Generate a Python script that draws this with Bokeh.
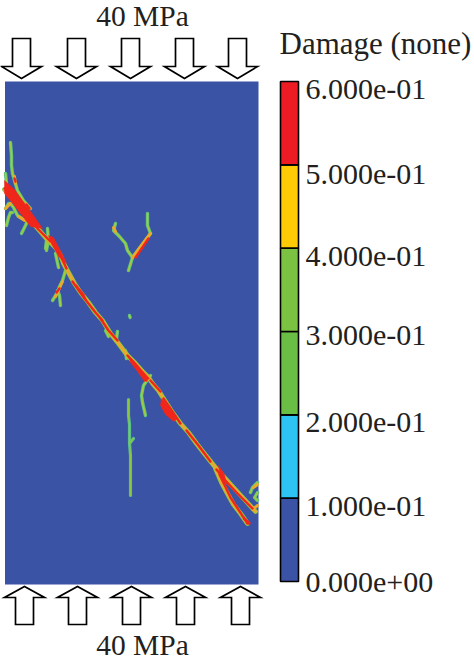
from bokeh.plotting import figure
from bokeh.models import Range1d
from bokeh.core.properties import value
from bokeh.embed import file_html
from bokeh.resources import INLINE

# Colour bar
levels = [0.0, 0.1, 0.2, 0.3, 0.4, 0.5, 0.6]
tick_labels = ["0.000e+00", "1.000e-01", "2.000e-01", "3.000e-01", "4.000e-01", "5.000e-01", "6.000e-01"]
band_colors = ["#3A53A4", "#2DC3F3", "#6ABD45", "#7CC242", "#FFCB05", "#ED1C24"]
bar_title = "Damage (none)"
load_label = "40 MPa"

# Crack traces in image coordinates
main_x = [4, 17, 32, 45, 55, 60, 63, 68, 74, 80, 88, 95, 102, 110, 118, 127, 135, 143, 148, 152, 158, 163, 172, 180, 188, 196, 203, 215, 224, 233, 244, 255]
main_y = [189, 203, 222, 237, 247, 255, 263, 272, 283, 292, 302, 312, 320, 333, 343, 355, 363, 372, 377, 383, 390, 398, 412, 423, 432, 443, 452, 467, 477, 487, 499, 511]
branch_x = [215, 221, 228, 233, 240, 247]
branch_y = [468, 482, 495, 504, 513, 523]

green_x = [
    [10, 11, 11, 12, 14, 17, 20, 23, 30], [5, 6], [5, 8, 10, 13, 17, 20, 27], [6, 8, 10, 12], [21, 25, 28], [47, 48, 46], [55, 58],
    [65, 62, 59, 57, 52], [60, 59, 57], [115, 113, 119, 125, 127, 132, 128], [147, 147, 150], [132, 141, 150],
    [150, 143, 141, 142, 145], [116, 117], [125, 126], [129, 129.6],
    [257, 252, 250], [257, 254, 257], [45, 46], [105, 108],
]
green_y = [
    [142, 155, 165, 173, 180, 190, 195, 200, 208], [173, 183], [208, 203, 203, 207, 215, 217, 220], [225, 217, 212, 212], [233, 225, 218], [228, 240, 250], [253, 267],
    [270, 280, 286, 292, 300], [305, 295, 290], [223, 230, 236, 243, 250, 257, 270], [213, 225, 233], [257, 245, 233],
    [375, 385, 395, 402, 415], [338, 331], [350, 358], [315, 317],
    [482, 487, 492], [492, 497, 500], [248, 240], [330, 336],
]
vertical_x = [[128, 128, 129, 129, 129, 130, 130, 130, 130], [129, 133]]
vertical_y = [[399, 415, 424, 433, 443, 455, 470, 485, 495], [443, 438]]
orange_x = [[25, 29], [113, 115], [132, 141, 150], [62, 57, 55], [257, 252], [14, 15], [5, 10], [18, 24], [253, 257]]
orange_y = [[203, 208], [227, 231], [257, 245, 233], [281, 292, 296], [505, 509], [176, 183], [208, 203], [216, 220], [487, 484]]
red_x = [[4, 12, 25, 37, 50], [52, 60, 66], [72, 84, 95, 102], [100, 108, 117], [127, 137, 146], [150, 160], [163, 172, 180], [186, 198, 210], [216, 224, 236, 252], [219, 230, 247], [135, 148], [56, 59], [26, 29], [14, 15]]
red_y = [[188, 198, 212, 228, 241], [243, 255, 268], [281, 298, 312, 320], [318, 330, 340], [355, 366, 380], [380, 391], [398, 411, 423], [430, 445, 461], [469, 479, 492, 508], [474, 497, 523], [257, 238], [292, 288], [204, 208], [178, 181]]
fat_x = [[4, 14, 33, 42, 30, 13, 4], [48, 53, 63, 66, 58, 50], [76, 84, 86, 78], [128, 132, 149, 144, 137, 130], [161, 169, 176, 173, 165, 160], [218, 224, 226, 220], [242, 250, 249, 243]]
fat_y = [[180, 189, 215, 228, 226, 204, 193], [235, 237, 256, 263, 256, 241], [284, 294, 300, 291], [356, 359, 378, 381, 371, 362], [398, 406, 419, 421, 414, 405], [465, 474, 484, 477], [515, 522, 525, 519]]

# Loading arrows
top_centres = [21, 76, 130, 184, 237]
bottom_centres = [24, 77, 131, 185, 240]

W, H = 474, 668
p = figure(width=W, height=H, x_range=Range1d(0, W), y_range=Range1d(H, 0),
           output_backend="svg", toolbar_location=None, min_border=0,
           background_fill_color="white", border_fill_color="white", margin=0)
p.axis.visible = False
p.grid.visible = False
p.outline_line_color = None

p.extra_y_ranges = {"damage": Range1d(start=(581 - H) / 500 * 0.6, end=581 / 500 * 0.6)}

p.quad(left=4.5, right=258, top=81, bottom=584, fill_color=band_colors[0], line_color=None)

round_line = dict(line_join="round", line_cap="round")
p.multi_line(vertical_x, vertical_y, line_color="#57BE93", line_width=3.2, **round_line)
p.multi_line(vertical_x, vertical_y, line_color="#8CC63F", line_width=1.4, **round_line)
p.multi_line(green_x, green_y, line_color="#5FC07F", line_width=3.4, **round_line)
p.multi_line(green_x, green_y, line_color="#A2CD3A", line_width=1.6, **round_line)
p.multi_line([main_x, branch_x], [main_y, branch_y], line_color="#8DC646", line_width=4.8, **round_line)
p.multi_line([main_x, branch_x] + orange_x, [main_y, branch_y] + orange_y, line_color="#E9A92C", line_width=3.0, **round_line)
p.multi_line(red_x, red_y, line_color="#F0261B", line_width=2.4, **round_line)
p.patches(fat_x, fat_y, fill_color="#F0261B", line_color="#F0261B", line_width=0.5)

xs, ys = [], []
for c in top_centres:
    xs.append([c - 9, c + 9, c + 9, c + 20, c, c - 20, c - 9])
    ys.append([38, 38, 66, 66, 78, 66, 66])
for c in bottom_centres:
    xs.append([c - 9, c + 9, c + 9, c + 20, c, c - 20, c - 9])
    ys.append([624, 624, 597, 597, 586, 597, 597])
p.patches(xs, ys, fill_color="white", line_color="black", line_width=1.7, line_join="miter")

p.quad(left=280, right=298, bottom=levels[:-1], top=levels[1:], fill_color=band_colors,
       line_color="black", line_width=1.6, y_range_name="damage")
p.text(x=305, y=levels, text=tick_labels, y_range_name="damage", text_font=value("Liberation Serif"),
       text_font_size="30px", text_baseline="middle", text_color="#231F20",
       y_offset=[1, 8, 8, 4, 8, 10, 8])
p.text(x=[279], y=[43], text=[bar_title], text_font=value("Liberation Serif"), text_font_size="31px",
       text_baseline="middle", text_color="#231F20")
p.text(x=[142, 142], y=[15, 644], text=[load_label, load_label], text_font=value("Liberation Serif"),
       text_font_size="29.5px", text_align="center", text_baseline="middle", text_color="#231F20")

open("out.html", "w").write(file_html(p, INLINE))
